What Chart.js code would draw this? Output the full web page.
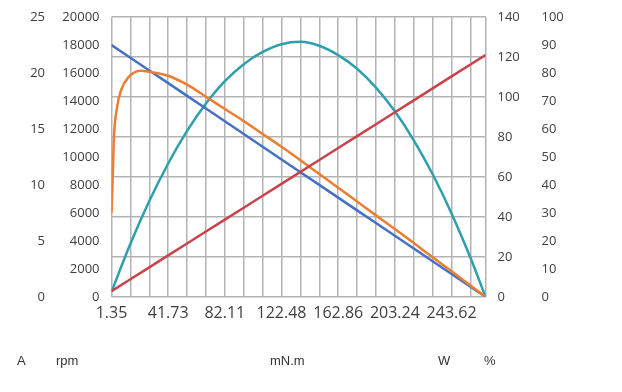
<!DOCTYPE html>
<html>
<head>
<meta charset="utf-8">
<script src="https://cdn.jsdelivr.net/npm/chart.js@4/dist/chart.umd.min.js"></script>
<style>
  body { margin: 0; background: #fff; }
  #wrap { position: relative; width: 622px; height: 392px; }
  .unit { position: absolute; top: 353px; font: 13px "Liberation Sans", Arial, sans-serif; color: #333; }
</style>
</head>
<body>
<div id="wrap">
  <canvas id="chart" width="622" height="392"></canvas>
  <span class="unit" style="left:17px">A</span>
  <span class="unit" style="left:56px">rpm</span>
  <span class="unit" style="left:270px">mN.m</span>
  <span class="unit" style="left:438px">W</span>
  <span class="unit" style="left:484px">%</span>
</div>
<script>
// torque points (mN.m), last one is stall torque
const torque = [1.35, 14.81, 28.27, 41.73, 55.19, 68.65, 82.11, 95.57, 109.03, 122.48,
  135.94, 149.40, 162.86, 176.32, 189.78, 203.24, 216.70, 230.16, 243.62, 257.08, 267.8];
const xTickLabels = ['1.35', '41.73', '82.11', '122.48', '162.86', '203.24', '243.62'];

// speed, rpm
const speed = [18000, 17091, 16181, 15272, 14363, 13454, 12544, 11635, 10726, 9817,
  8907, 7998, 7089, 6180, 5270, 4361, 3452, 2543, 1633, 724, 0];
// current, A
const current = [0.5, 1.57, 2.63, 3.70, 4.76, 5.83, 6.90, 7.96, 9.03, 10.09,
  11.16, 12.22, 13.29, 14.36, 15.42, 16.49, 17.55, 18.62, 19.69, 20.75, 21.6];
// output power, W
const power = [2.5, 26.5, 47.9, 66.7, 83.0, 96.7, 107.9, 116.4, 122.5, 126.4,
  127.6, 125.6, 120.9, 114.1, 104.7, 92.8, 78.3, 61.3, 41.7, 19.5, 0];
// efficiency, % (extra torque points near no-load where it rises fast)
const effTorque = [1.35, 2.3, 3.0, 5.4, 8.3, 13.6, 22.2, 28.27, 41.73, 55.19, 68.65, 82.11,
  95.57, 109.03, 122.48, 135.94, 149.40, 162.86, 176.32, 189.78, 203.24, 216.70,
  230.16, 243.62, 257.08, 267.8];
const efficiency = [30, 44, 56, 68, 74, 78.6, 80.8, 80.4, 79.0, 75.8, 71.5, 67.1,
  62.8, 58.2, 53.6, 48.8, 43.9, 39.0, 34.1, 29.1, 24.2, 19.2, 14.1, 9.1, 4.0, 0];

const toPoints = (xs, ys) => xs.map((x, i) => ({ x: x, y: ys[i] }));

const tickFont = { family: 'Open Sans', size: 13 };
const tickColor = '#404040';
const gridColor = '#b3b3b3';
const plain = (v) => String(v);

// fixed width for a y axis, and no extra top/bottom room from tick padding
function fitY(width) {
    return (scale) => {
        scale.width = width;
        scale.paddingTop = 8;
        scale.paddingBottom = 8;
    };
}

new Chart(document.getElementById('chart').getContext('2d'), {
    type: 'line',
    data: {
        datasets: [
            { label: 'A', data: toPoints(torque, current), yAxisID: 'yA', borderColor: '#C8434B', borderWidth: 2.5, pointRadius: 0, order: 0 },
            { label: '%', data: toPoints(effTorque, efficiency), yAxisID: 'yPct', borderColor: '#ED7D31', borderWidth: 2.5, pointRadius: 0, cubicInterpolationMode: 'monotone', order: 1 },
            { label: 'rpm', data: toPoints(torque, speed), yAxisID: 'yRpm', borderColor: '#4472C4', borderWidth: 2.5, pointRadius: 0, order: 2 },
            { label: 'W', data: toPoints(torque, power), yAxisID: 'yW', borderColor: '#2E9FAC', borderWidth: 2.5, pointRadius: 0, cubicInterpolationMode: 'monotone', order: 3 }
        ]
    },
    options: {
        responsive: false,
        animation: false,
        layout: { padding: { top: 17, left: 0, right: 33.5, bottom: 62 } },
        plugins: { legend: { display: false }, tooltip: { enabled: false } },
        scales: {
            x: {
                type: 'linear',
                min: torque[0],
                max: torque[torque.length - 1],
                afterBuildTicks: (scale) => { scale.ticks = torque.map(v => ({ value: v })); },
                ticks: {
                    autoSkip: false,
                    maxRotation: 0,
                    padding: 7,
                    color: tickColor,
                    font: { family: 'Open Sans', size: 16 },
                    callback: (value, index) => (index % 3 === 0 && xTickLabels[index / 3]) ? xTickLabels[index / 3] : ''
                },
                grid: { color: gridColor, lineWidth: 1.5, drawTicks: false },
                border: { display: false }
            },
            yA: {
                position: 'left', weight: 2, min: 0, max: 25,
                afterFit: fitY(55),
                ticks: { stepSize: 5, padding: 10, color: tickColor, font: tickFont, callback: plain },
                grid: { display: false, drawTicks: false },
                border: { display: false }
            },
            yRpm: {
                position: 'left', weight: 1, min: 0, max: 20000,
                afterFit: fitY(56.5),
                ticks: { stepSize: 2000, padding: 12, color: tickColor, font: tickFont, callback: plain },
                grid: { display: false, drawTicks: false },
                border: { display: false }
            },
            yW: {
                position: 'right', weight: 1, min: 0, max: 140,
                afterFit: fitY(43),
                ticks: { stepSize: 20, padding: 12, color: tickColor, font: tickFont, callback: plain },
                grid: { color: gridColor, lineWidth: 1.5, drawTicks: false },
                border: { display: false }
            },
            yPct: {
                position: 'right', weight: 2, min: 0, max: 100,
                afterFit: fitY(60),
                ticks: { stepSize: 10, padding: 13, color: tickColor, font: tickFont, callback: plain },
                grid: { display: false, drawTicks: false },
                border: { display: false }
            }
        }
    }
});
</script>
</body>
</html>
